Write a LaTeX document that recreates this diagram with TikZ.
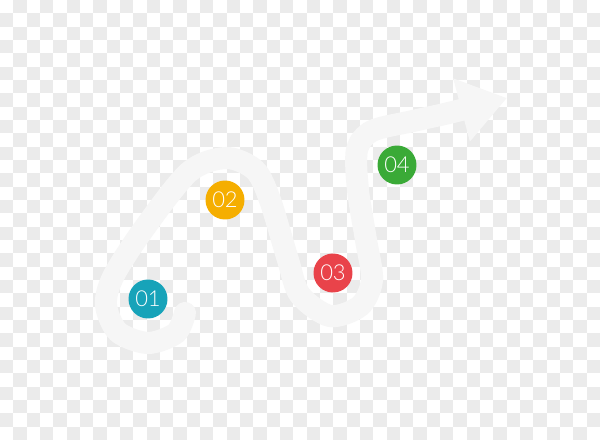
\documentclass[tikz,border=0pt]{standalone}
\usepackage{fontspec}
\setmainfont{Lato Light}
\usetikzlibrary{arrows.meta}
\definecolor{checker}{HTML}{EBEBEB}
\definecolor{band}{HTML}{F6F6F6}
\definecolor{stepa}{HTML}{17A3B9}
\definecolor{stepb}{HTML}{F5AE00}
\definecolor{stepc}{HTML}{E9434A}
\definecolor{stepd}{HTML}{3AAA37}

\begin{document}
\begin{tikzpicture}[x=0.02cm,y=-0.02cm,
    dot/.style={circle,fill=#1,minimum size=0.78cm,inner sep=0pt,text=white,
      font=\fontsize{12.5}{14}\selectfont}]
  \useasboundingbox (0,0) rectangle (600,440);
  \fill[white] (0,0) rectangle (600,440);
  \foreach \j in {0,...,32}
    \foreach \i in {0,...,22}
      \fill[checker] ({(2*\i+1-mod(\j,2))*40/3},{\j*40/3}) rectangle +(40/3,40/3);
  \draw[band,line width=0.44cm,line cap=round,-{Triangle[length=0.94cm,width=1.24cm]}]
    plot[smooth] coordinates {(185,313) (176,333) (148,343) (118,332) (106,305)
      (113,277) (143,230) (189,172) (226,158) (255,170) (270,200) (288,260)
      (300,295) (330,316) (360,306) (372,280) (366,240) (358,190) (357,150)
      (372,131) (413,121) (453,112) (507,98)};
  \node[dot=stepa] (s1) at (148,299) {01};
  \node[dot=stepb] (s2) at (225,200) {02};
  \node[dot=stepc] (s3) at (333,273) {03};
  \node[dot=stepd] (s4) at (397,165) {04};
\end{tikzpicture}
\end{document}
